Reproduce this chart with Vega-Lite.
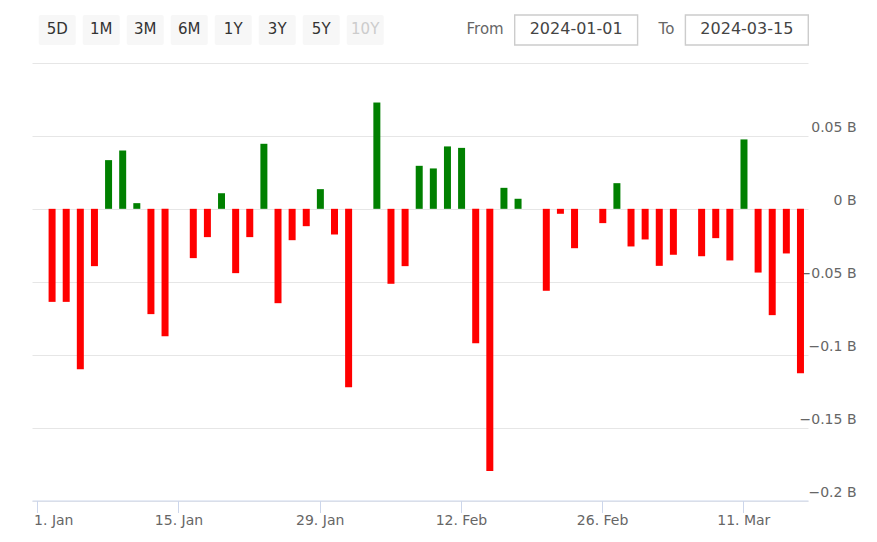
{"$schema":"https://vega.github.io/schema/vega-lite/v6.json","width":776,"height":437.5,"autosize":{"type":"none"},"padding":{"left":32,"top":63,"right":69,"bottom":41.5},"background":"#ffffff","config":{"view":{"stroke":null},"font":"DejaVu Sans"},"datasets":{"flows":[{"day":"2024-01-02","value":-0.0638},{"day":"2024-01-03","value":-0.0638},{"day":"2024-01-04","value":-0.11},{"day":"2024-01-05","value":-0.0393},{"day":"2024-01-08","value":0.0334},{"day":"2024-01-09","value":0.04},{"day":"2024-01-10","value":0.0039},{"day":"2024-01-11","value":-0.0722},{"day":"2024-01-12","value":-0.0873},{"day":"2024-01-16","value":-0.0338},{"day":"2024-01-17","value":-0.0194},{"day":"2024-01-18","value":0.0107},{"day":"2024-01-19","value":-0.0441},{"day":"2024-01-22","value":-0.0194},{"day":"2024-01-23","value":0.0446},{"day":"2024-01-24","value":-0.0647},{"day":"2024-01-25","value":-0.0215},{"day":"2024-01-26","value":-0.0119},{"day":"2024-01-29","value":0.0135},{"day":"2024-01-30","value":-0.0176},{"day":"2024-01-31","value":-0.1223},{"day":"2024-02-02","value":0.0729},{"day":"2024-02-05","value":-0.0514},{"day":"2024-02-06","value":-0.0393},{"day":"2024-02-07","value":0.0295},{"day":"2024-02-08","value":0.0277},{"day":"2024-02-09","value":0.0428},{"day":"2024-02-12","value":0.0418},{"day":"2024-02-13","value":-0.0921},{"day":"2024-02-14","value":-0.1797},{"day":"2024-02-15","value":0.0144},{"day":"2024-02-16","value":0.0069},{"day":"2024-02-20","value":-0.0562},{"day":"2024-02-21","value":-0.0034},{"day":"2024-02-22","value":-0.027},{"day":"2024-02-26","value":-0.0098},{"day":"2024-02-27","value":0.0176},{"day":"2024-02-28","value":-0.0258},{"day":"2024-02-29","value":-0.021},{"day":"2024-03-01","value":-0.0391},{"day":"2024-03-04","value":-0.0315},{"day":"2024-03-06","value":-0.0325},{"day":"2024-03-07","value":-0.0201},{"day":"2024-03-08","value":-0.0354},{"day":"2024-03-11","value":0.0476},{"day":"2024-03-12","value":-0.0437},{"day":"2024-03-13","value":-0.0729},{"day":"2024-03-14","value":-0.0306},{"day":"2024-03-15","value":-0.1127}],"buttons":[{"label":"5D"},{"label":"1M"},{"label":"3M"},{"label":"6M"},{"label":"1Y"},{"label":"3Y"},{"label":"5Y"},{"label":"10Y"}],"inputs":[{"caption":"From","date":"2024-01-01"},{"caption":"To","date":"2024-03-15"}]},"resolve":{"scale":{"x":"independent","y":"independent"}},"layer":[{"data":{"name":"flows"},"mark":{"type":"bar","size":7,"xOffset":0.7},"encoding":{"x":{"field":"day","type":"ordinal","scale":{"type":"point","padding":0.478,"align":0.39,"domain":["2024-01-01","2024-01-02","2024-01-03","2024-01-04","2024-01-05","2024-01-08","2024-01-09","2024-01-10","2024-01-11","2024-01-12","2024-01-15","2024-01-16","2024-01-17","2024-01-18","2024-01-19","2024-01-22","2024-01-23","2024-01-24","2024-01-25","2024-01-26","2024-01-29","2024-01-30","2024-01-31","2024-02-01","2024-02-02","2024-02-05","2024-02-06","2024-02-07","2024-02-08","2024-02-09","2024-02-12","2024-02-13","2024-02-14","2024-02-15","2024-02-16","2024-02-19","2024-02-20","2024-02-21","2024-02-22","2024-02-23","2024-02-26","2024-02-27","2024-02-28","2024-02-29","2024-03-01","2024-03-04","2024-03-05","2024-03-06","2024-03-07","2024-03-08","2024-03-11","2024-03-12","2024-03-13","2024-03-14","2024-03-15"]},"axis":{"title":null,"values":["2024-01-01","2024-01-15","2024-01-29","2024-02-12","2024-02-26","2024-03-11"],"labelExpr":"utcFormat(toDate(datum.value), '%-d. %b')","labelAngle":0,"labelFontSize":14,"labelColor":"#666666","labelOverlap":false,"labelFlush":false,"labelPadding":1,"labelOffset":{"condition":{"test":"datum.value === '2024-01-01'","value":16},"value":0},"domainColor":"#ccd6eb","tickColor":"#ccd6eb","tickSize":12,"grid":false}},"y":{"field":"value","type":"quantitative","stack":null,"scale":{"domain":[-0.2,0.1],"nice":false,"zero":false},"axis":{"title":null,"orient":"right","values":[-0.2,-0.15,-0.1,-0.05,0,0.05,0.1],"labelExpr":"datum.value === 0.1 ? '' : format(datum.value, '.2~f') + ' B'","labelFontSize":14,"labelColor":"#666666","labelAlign":"right","labelBaseline":"middle","labelPadding":48,"labelOffset":-8,"labelOverlap":false,"labelFlush":false,"domain":false,"ticks":false,"tickSize":0,"grid":true,"gridColor":"#e6e6e6","gridWidth":1}},"color":{"condition":{"test":"datum.value < 0","value":"#ff0000"},"value":"#008000"}}},{"data":{"name":"buttons"},"layer":[{"mark":{"type":"bar","color":"#f7f7f7","cornerRadius":2},"encoding":{"x":{"field":"label","type":"nominal","sort":null,"axis":null,"scale":{"type":"band","domain":["5D","1M","3M","6M","1Y","3Y","5Y","10Y"],"range":[6.7,351.7],"paddingInner":0.159,"paddingOuter":0}},"y":{"datum":0.1329,"type":"quantitative","scale":{"domain":[-0.2,0.1],"nice":false,"zero":false},"axis":null},"y2":{"datum":0.1123}}},{"mark":{"type":"text","fontSize":15,"baseline":"middle"},"encoding":{"x":{"field":"label","type":"nominal","sort":null,"axis":null,"scale":{"type":"band","domain":["5D","1M","3M","6M","1Y","3Y","5Y","10Y"],"range":[6.7,351.7],"paddingInner":0.159,"paddingOuter":0}},"y":{"datum":0.1233,"type":"quantitative","scale":{"domain":[-0.2,0.1],"nice":false,"zero":false},"axis":null},"text":{"field":"label"},"color":{"condition":{"test":"datum.label === '10Y'","value":"#cccccc"},"value":"#333333"}}}]},{"data":{"name":"inputs"},"layer":[{"mark":{"type":"bar","fill":"#ffffff","stroke":"#cccccc","strokeWidth":1.4},"encoding":{"x":{"field":"date","type":"nominal","sort":null,"axis":null,"scale":{"type":"band","domain":["2024-01-01","2024-03-15"],"range":[482.7,776.3],"paddingInner":0.28,"paddingOuter":0}},"y":{"datum":0.1329,"type":"quantitative","scale":{"domain":[-0.2,0.1],"nice":false,"zero":false},"axis":null},"y2":{"datum":0.1123}}},{"mark":{"type":"text","fontSize":16,"baseline":"middle","color":"#444444"},"encoding":{"x":{"field":"date","type":"nominal","sort":null,"axis":null,"scale":{"type":"band","domain":["2024-01-01","2024-03-15"],"range":[482.7,776.3],"paddingInner":0.28,"paddingOuter":0}},"y":{"datum":0.1233,"type":"quantitative","scale":{"domain":[-0.2,0.1],"nice":false,"zero":false},"axis":null},"text":{"field":"date"}}},{"mark":{"type":"text","fontSize":15,"baseline":"middle","align":"right","dx":-11,"color":"#666666"},"encoding":{"x":{"field":"date","type":"nominal","sort":null,"bandPosition":0,"axis":null,"scale":{"type":"band","domain":["2024-01-01","2024-03-15"],"range":[482.7,776.3],"paddingInner":0.28,"paddingOuter":0}},"y":{"datum":0.1233,"type":"quantitative","scale":{"domain":[-0.2,0.1],"nice":false,"zero":false},"axis":null},"text":{"field":"caption"}}}]}]}
